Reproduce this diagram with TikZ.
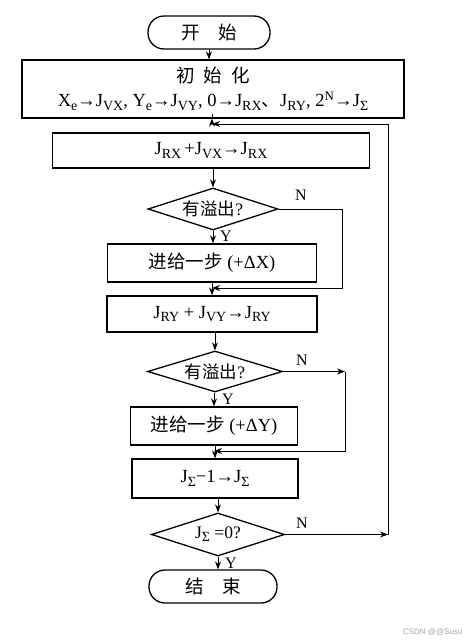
\documentclass[tikz,border=0pt]{standalone}
\usepackage{fontspec}
\setmainfont{Liberation Serif}
\newfontfamily\cjk{Noto Sans CJK SC}
\newfontfamily\wmfont{Liberation Sans}
\usetikzlibrary{shapes.geometric,arrows.meta}
\newcommand{\sbx}[1]{\raisebox{-0.4ex}{\fontsize{14}{14}\selectfont #1}}
\begin{document}
\begin{tikzpicture}[x=1pt,y=-1pt,
  box/.style={draw,line width=1.3pt,rectangle,inner sep=0pt,align=center,font=\fontsize{18.5}{24}\selectfont},
  term/.style={box,rounded corners=16pt},
  dec/.style={draw,line width=1.3pt,diamond,aspect=3,inner sep=0pt,font=\fontsize{17.5}{20}\selectfont},
  arr/.style={line width=1pt,-{Stealth[length=8pt,width=6pt]}},
  lbl/.style={font=\fontsize{16}{18}\selectfont,inner sep=0pt}]
\fill[white] (0,0) rectangle (474,642);
\useasboundingbox (0,0) rectangle (474,642);
\node[term,minimum width=122pt,minimum height=33pt] (start) at (209,32.5) {\cjk 开\hspace{1em}始};
\node[box,minimum width=382pt,minimum height=58pt] (init) at (213,89)
  {{\cjk 初\hspace{0.5em}始\hspace{0.5em}化}\\
   X\sbx{e}→J\sbx{VX}, Y\sbx{e}→J\sbx{VY}, 0→J\sbx{RX}{\cjk 、}J\sbx{RY}, 2\textsuperscript{N}→J\sbx{Σ}};
\node[box,minimum width=317pt,minimum height=35pt] (jrx) at (211,150.5) {J\sbx{RX}\,+J\sbx{VX}→J\sbx{RX}};
\node[dec,minimum width=130pt,minimum height=42pt] (d1) at (213,209) {{\cjk 有溢出}?};
\node[box,minimum width=209pt,minimum height=38pt] (feedx) at (212,263) {{\cjk 进给一步} (+ΔX)};
\node[box,minimum width=210pt,minimum height=36pt] (jry) at (212,314) {J\sbx{RY} + J\sbx{VY}→J\sbx{RY}};
\node[dec,minimum width=135pt,minimum height=41pt] (d2) at (215,371.5) {{\cjk 有溢出}?};
\node[box,minimum width=167pt,minimum height=38pt] (feedy) at (214,426) {{\cjk 进给一步} (+ΔY)};
\node[box,minimum width=166pt,minimum height=39pt] (jsig) at (215,478.5) {J\sbx{Σ}−1→J\sbx{Σ}};
\node[dec,minimum width=133pt,minimum height=43pt] (d3) at (218,534.5) {J\sbx{Σ} =0?};
\node[term,minimum width=128pt,minimum height=33pt] (end) at (213,586.5) {\cjk 结\hspace{1em}束};
% labels
\node[lbl] (n1) at (301,195) {N};
\node[lbl] (y1) at (226,236) {Y};
\node[lbl] (n2) at (302,360) {N};
\node[lbl] (y2) at (228,399) {Y};
\node[lbl] (n3) at (302,523) {N};
\node[lbl] (y3) at (231,563) {Y};
\node[font=\wmfont\fontsize{8}{9}\selectfont,text=gray!70,anchor=east] (wm) at (466,632) {CSDN @@Susu};
% coordinates
\coordinate (a1) at (342,209);
\coordinate (a2) at (342,288);
\coordinate (m1) at (212,288);
\coordinate (b1) at (345,371.5);
\coordinate (b2) at (345,451);
\coordinate (m2) at (214,451);
\coordinate (c1) at (388,534.5);
\coordinate (c2) at (388,124);
\coordinate (m0) at (212,124);
% main flow
\draw[arr] (start.south) -- (start.south |- init.north);
\draw[arr] (init.south -| m0) -- (init.south -| m0 |- jrx.north);
\draw[arr] (jrx.south -| d1.north) -- (d1.north);
\draw[arr] (d1.south) -- (d1.south |- feedx.north);
\draw[arr] (feedx.south) -- (feedx.south |- jry.north);
\draw[arr] (jry.south -| d2.north) -- (d2.north);
\draw[arr] (d2.south -| feedy.north) -- (feedy.north);
\draw[arr] (feedy.south -| jsig.north) -- (jsig.north);
\draw[arr] (jsig.south -| d3.north) -- (d3.north);
\draw[arr] (d3.south) -- (d3.south |- end.north);
% branches
\draw[arr] (d1.east) -- (a1) -- (a2) -- (m1);
\draw[arr] (d2.east) -- (b1);
\draw[arr] (b1) -- (b2) -- (m2);
\draw[arr] (d3.east) -- (c1);
\draw[arr] (c1) -- (c2) -- (m0);
\end{tikzpicture}
\end{document}
